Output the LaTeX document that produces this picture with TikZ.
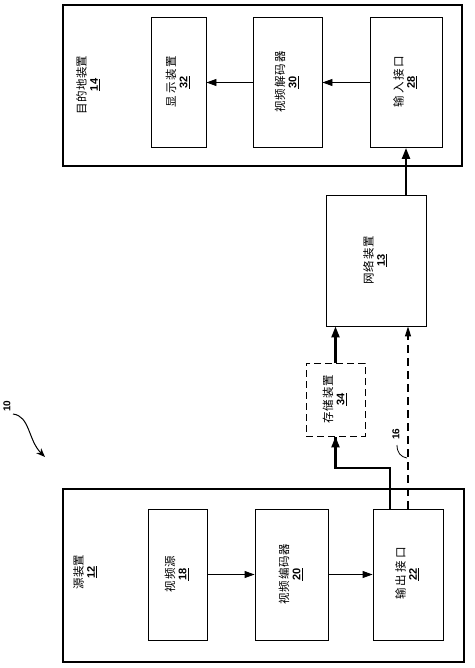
\documentclass[tikz,border=0pt]{standalone}
\usepackage{fontspec}
\setmainfont{Noto Sans CJK SC}
\setsansfont{Liberation Sans}
\usetikzlibrary{arrows.meta}
\newcommand\refnum[1]{{\sffamily\bfseries\fontsize{11}{13}\selectfont\underline{#1}}}
\newcommand\vlabel[3][10]{\rotatebox{90}{\begin{tabular}{@{}c@{}}{\addfontfeature{LetterSpace=#1}#2\kern-\dimexpr 11.5pt*#1/100\relax}\\[-1pt]#3\end{tabular}}}
\begin{document}
\begin{tikzpicture}[x=1pt,y=-1pt,
  box/.style={draw, line width=0.9pt, inner sep=0pt, font=\fontsize{11.5}{13}\selectfont},
  outerbox/.style={draw, line width=1.1pt, inner sep=0pt},
  dbox/.style={box, dash pattern=on 7pt off 4pt},
  lbl/.style={inner sep=0pt, font=\fontsize{11.5}{13}\selectfont},
  thinarrow/.style={line width=0.9pt, -{Triangle[length=10pt,width=7pt]}},
  thickarrow/.style={line width=2.2pt, -{Triangle[length=11pt,width=8pt]}},
  dasharrow/.style={line width=1.3pt, dash pattern=on 8pt off 5pt, -{Triangle[length=10pt,width=6pt]}},
  thickline/.style={line width=2.2pt}]
\useasboundingbox (0,0) rectangle (474,668);

% destination device
\node[outerbox, minimum width=399pt, minimum height=161pt] (n14) at (262.5,85.5) {};
\node[lbl] (lbl14) at (89,85) {\vlabel[2]{目的地装置}{\refnum{14}}};
\node[box, minimum width=55pt, minimum height=130pt] (n32) at (178.5,82.5) {\vlabel[15]{显示装置}{\refnum{32}}};
\node[box, minimum width=69pt, minimum height=130pt] (n30) at (287.5,82.5) {\vlabel[8]{视频解码器}{\refnum{30}}};
\node[box, minimum width=72pt, minimum height=130pt] (n28) at (406,82.5) {\vlabel[15]{输入接口}{\refnum{28}}};

% network and storage
\node[box, minimum width=100pt, minimum height=131pt] (n13) at (376,260.5) {\vlabel[5]{网络装置}{\refnum{13}}};
\node[dbox, minimum width=59pt, minimum height=73pt] (n34) at (335.5,399.5) {\vlabel[5]{存储装置}{\refnum{34}}};

% source device
\node[outerbox, minimum width=401pt, minimum height=173pt] (n12) at (263.5,575.5) {};
\node[lbl] (lbl12) at (86,572) {\vlabel[0]{源装置}{\refnum{12}}};
\node[box, minimum width=59pt, minimum height=131pt] (n18) at (177.5,574.5) {\vlabel[10]{视频源}{\refnum{18}}};
\node[box, minimum width=73pt, minimum height=131pt] (n20) at (291.5,574.5) {\vlabel[5]{视频编码器}{\refnum{20}}};
\node[box, minimum width=70pt, minimum height=131pt] (n22) at (408,574.5) {\vlabel[18]{输出接口}{\refnum{22}}};

% connectors inside devices
\draw[thinarrow] (n28.west) -- (n30.east);
\draw[thinarrow] (n30.west) -- (n32.east);
\draw[thinarrow] (n18.east) -- (n20.west);
\draw[thinarrow] (n20.east) -- (n22.west);

% links
\draw[thickarrow] (n28 |- n13.north) -- (n28.south);
\draw[thickarrow] (n34.north) -- (n34 |- n13.south);
\coordinate (bend) at (390,468);
\draw[thickline] (bend |- n22.north) -- (bend) -| ([yshift=-1pt]n34.south);
\draw[thickarrow] ([yshift=-12pt]n34.south) -- (n34.south);
\draw[dasharrow] (n22.north) -- (n22 |- n13.south);

% label 16
\node[lbl, font=\sffamily\bfseries\fontsize{10}{11}\selectfont, rotate=90] (lbl16) at (396,434) {16};
\coordinate (c16a) at (397,445);
\coordinate (c16b) at (407,458);
\draw[line width=0.8pt] (c16a) .. controls (397,453) and (401,457) .. (c16b);

% label 10
\node[lbl, font=\sffamily\bfseries\fontsize{10}{11}\selectfont, rotate=90] (lbl10) at (7,406) {10};
\coordinate (c10a) at (13,414);
\coordinate (c10b) at (45,457);
\draw[line width=1pt, -{Stealth[length=9pt,width=7pt]}] (c10a) .. controls (30,416) and (28,440) .. (c10b);
\end{tikzpicture}
\end{document}
